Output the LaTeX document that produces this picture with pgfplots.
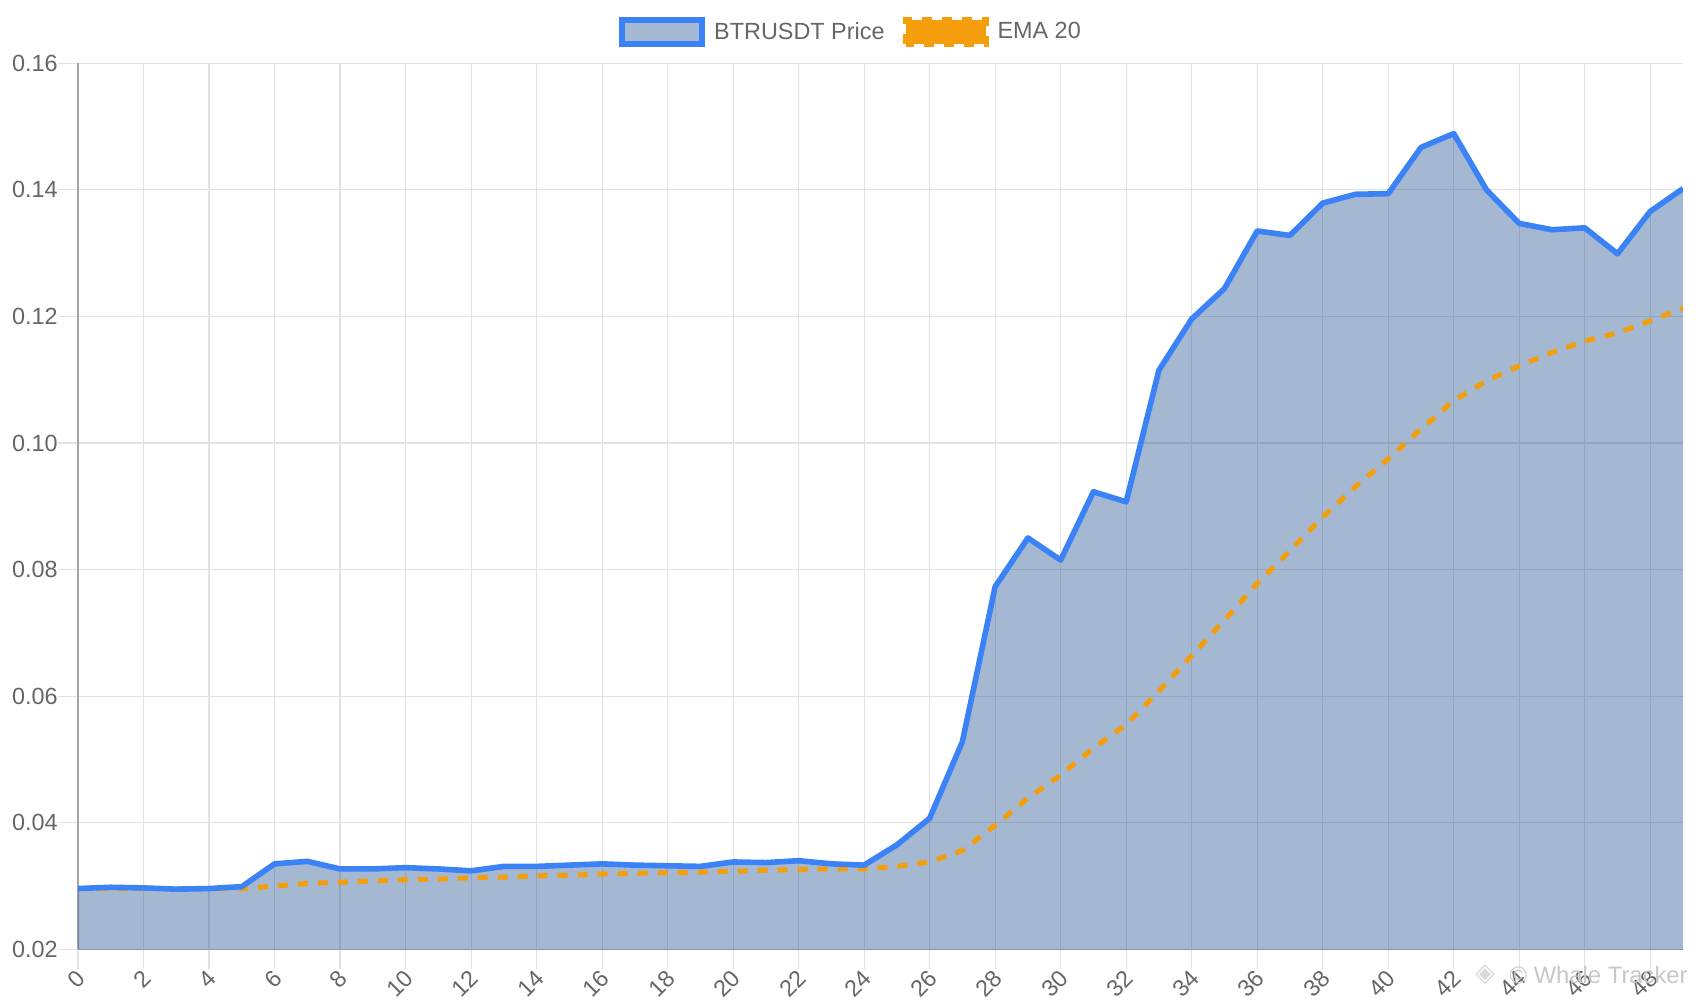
\documentclass[border=0pt]{standalone}
\usepackage{pgfplots}
\pgfplotsset{compat=1.18}
\usepackage{fontspec}
\setmainfont{Liberation Sans}
\newfontfamily\symfont{DejaVu Sans}
\definecolor{lineblue}{RGB}{59,130,246}
\definecolor{fillblue}{RGB}{30,77,142}
\definecolor{legfill}{RGB}{165,184,210}
\definecolor{emaorange}{RGB}{245,158,11}
\definecolor{gridgray}{RGB}{226,226,226}
\definecolor{txtgray}{RGB}{102,102,102}
\definecolor{axisgray}{RGB}{165,165,165}
\pgfplotstableread{
x price ema
0 0.0296 0.0296
1 0.0298 0.0296
2 0.0297 0.0296
3 0.0295 0.0296
4 0.0296 0.0296
5 0.0299 0.0296
6 0.0335 0.0300
7 0.0339 0.0304
8 0.0327 0.0306
9 0.0327 0.0308
10 0.0329 0.0310
11 0.0327 0.0311
12 0.0324 0.0313
13 0.0331 0.0314
14 0.0331 0.0316
15 0.0333 0.0317
16 0.0335 0.0319
17 0.0333 0.0320
18 0.0332 0.0321
19 0.0331 0.0322
20 0.0338 0.0323
21 0.0337 0.0325
22 0.0340 0.0326
23 0.0335 0.0327
24 0.0333 0.0327
25 0.0365 0.0331
26 0.0407 0.0338
27 0.0528 0.0356
28 0.0773 0.0396
29 0.0850 0.0439
30 0.0815 0.0475
31 0.0923 0.0518
32 0.0907 0.0555
33 0.1115 0.0608
34 0.1196 0.0664
35 0.1244 0.0720
36 0.1335 0.0778
37 0.1328 0.0830
38 0.1379 0.0883
39 0.1393 0.0931
40 0.1394 0.0975
41 0.1467 0.1022
42 0.1489 0.1067
43 0.1400 0.1098
44 0.1347 0.1122
45 0.1337 0.1143
46 0.1340 0.1161
47 0.1299 0.1174
48 0.1366 0.1193
49 0.1402 0.1213
}\datatable
\begin{document}
\begin{tikzpicture}
\path[use as bounding box] (-39pt,-25.35pt) rectangle (811pt,474.65pt);
\begin{axis}[
  at={(0,0)}, anchor=south west,
  scale only axis, width=802.5pt, height=443pt,
  xmin=0, xmax=49, ymin=0.02, ymax=0.16,
  xtick={0,2,4,6,8,10,12,14,16,18,20,22,24,26,28,30,32,34,36,38,40,42,44,46,48},
  ytick={0.02,0.04,0.06,0.08,0.10,0.12,0.14,0.16},
  yticklabels={0.02,0.04,0.06,0.08,0.10,0.12,0.14,0.16},
  /pgf/number format/assume math mode=true,
  grid=major, major grid style={gridgray, line width=0.55pt},
  axis lines=left, axis line style={-, axisgray, line width=0.6pt},
  tick align=outside, major tick length=10pt,
  tick style={gridgray, line width=0.55pt},
  tick label style={font=\fontsize{11.7}{14}\selectfont, text=txtgray},
  xticklabel style={rotate=45, anchor=east, inner sep=0pt, yshift=-3pt, xshift=-0.5pt},
  yticklabel style={anchor=east, inner sep=0pt, xshift=0pt},
  legend columns=2,
  legend style={at={(axis description cs:0.481,1)}, anchor=center, yshift=15.6pt,
    draw=none, fill=none, inner sep=0pt,
    font=\fontsize{11.7}{14}\selectfont, text=txtgray,
    nodes={inner sep=0pt},
    /tikz/every odd column/.style={column sep=4.5pt},
    /tikz/every even column/.style={column sep=9pt}},
]
\addlegendimage{legend image code/.code={\draw[fill=legfill, draw=lineblue, line width=3pt] (0pt,-6pt) rectangle (40pt,6pt);}}
\addlegendentry{BTRUSDT Price}
\addlegendimage{legend image code/.code={\draw[fill=emaorange, draw=emaorange, line width=3pt, dash pattern=on 5pt off 5pt] (0pt,-6pt) rectangle (40pt,6pt);}}
\addlegendentry{EMA 20}
\addplot[draw=none, fill=fillblue, fill opacity=0.4, forget plot] table[x=x, y=price] {\datatable} \closedcycle;
\addplot[emaorange, line width=2.5pt, dash pattern=on 5pt off 5pt, forget plot] table[x=x, y=ema] {\datatable};
\addplot[lineblue, line width=2.8pt, line join=round, forget plot] table[x=x, y=price] {\datatable};
\end{axis}
\node[text=black!15, font=\symfont\fontsize{13}{14}\selectfont, inner sep=0pt] at (703.5pt,-12.85pt) {◈};
\node[anchor=east, text=black!22, font=\fontsize{11.9}{14}\selectfont, inner sep=0pt] at (805pt,-12.85pt) {© Whale Tracker};
\end{tikzpicture}
\end{document}
